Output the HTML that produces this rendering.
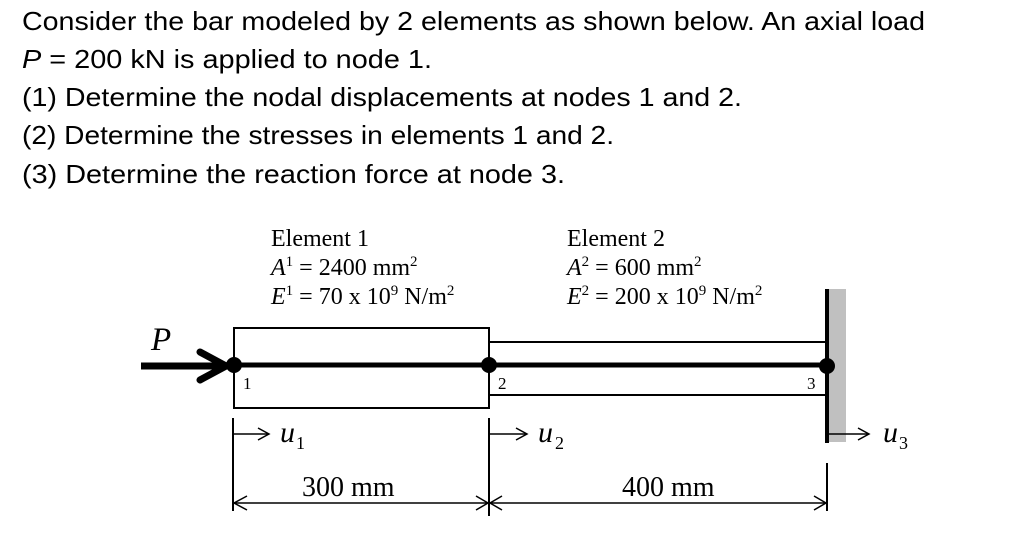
<!DOCTYPE html>
<html><head><meta charset="utf-8"><style>html,body{margin:0;padding:0;background:#fff}svg{display:block}</style></head>
<body>
<svg width="1024" height="555" viewBox="0 0 1024 555" xmlns="http://www.w3.org/2000/svg">
<g font-family="Liberation Sans, sans-serif" font-size="26" fill="#000">
<text x="22" y="30" textLength="903" lengthAdjust="spacingAndGlyphs">Consider the bar modeled by 2 elements as shown below. An axial load</text>
<text x="22" y="68" textLength="410" lengthAdjust="spacingAndGlyphs"><tspan font-style="italic">P</tspan> = 200 kN is applied to node 1.</text>
<text x="22" y="106" textLength="720" lengthAdjust="spacingAndGlyphs">(1) Determine the nodal displacements at nodes 1 and 2.</text>
<text x="22" y="144" textLength="592" lengthAdjust="spacingAndGlyphs">(2) Determine the stresses in elements 1 and 2.</text>
<text x="22" y="183" textLength="543" lengthAdjust="spacingAndGlyphs">(3) Determine the reaction force at node 3.</text>
</g>
<g font-family="Liberation Serif, serif" font-size="24" fill="#000">
<text x="271" y="246">Element 1</text>
<text x="271" y="275"><tspan font-style="italic">A</tspan><tspan font-size="15" dy="-9">1</tspan><tspan dy="9"> = 2400 mm</tspan><tspan font-size="15" dy="-9">2</tspan></text>
<text x="271" y="304"><tspan font-style="italic">E</tspan><tspan font-size="15" dy="-9">1</tspan><tspan dy="9"> = 70 x 10</tspan><tspan font-size="15" dy="-9">9</tspan><tspan dy="9"> N/m</tspan><tspan font-size="15" dy="-9">2</tspan></text>
<text x="567" y="246">Element 2</text>
<text x="567" y="275"><tspan font-style="italic">A</tspan><tspan font-size="15" dy="-9">2</tspan><tspan dy="9"> = 600 mm</tspan><tspan font-size="15" dy="-9">2</tspan></text>
<text x="567" y="304"><tspan font-style="italic">E</tspan><tspan font-size="15" dy="-9">2</tspan><tspan dy="9"> = 200 x 10</tspan><tspan font-size="15" dy="-9">9</tspan><tspan dy="9"> N/m</tspan><tspan font-size="15" dy="-9">2</tspan></text>
<text x="151" y="350" font-size="33" font-style="italic">P</text>
<text x="243" y="389" font-size="17">1</text>
<text x="498" y="389" font-size="17">2</text>
<text x="807" y="389" font-size="17">3</text>
<text x="302" y="496" font-size="28">300 mm</text>
<text x="622" y="496" font-size="28">400 mm</text>
<text x="280" y="442" font-size="30" font-style="italic">u</text><text x="296" y="449" font-size="18">1</text>
<text x="538" y="442" font-size="30" font-style="italic">u</text><text x="555" y="449" font-size="18">2</text>
<text x="883" y="442" font-size="30" font-style="italic">u</text><text x="899" y="449" font-size="18">3</text>
</g>
<g stroke="#000" fill="none">
<rect x="829" y="289" width="17" height="153" fill="#c0c0c0" stroke="none"/>
<rect x="234" y="328" width="255" height="80" stroke-width="2"/>
<line x1="489" y1="342" x2="827" y2="342" stroke-width="2"/>
<line x1="489" y1="395" x2="827" y2="395" stroke-width="2"/>
<line x1="233" y1="365" x2="827" y2="365" stroke-width="5"/>
<line x1="827" y1="289" x2="827" y2="443" stroke-width="4"/>
<line x1="141" y1="366" x2="222" y2="366" stroke-width="7"/>
<polyline points="200,352 226,366 200,380" stroke-width="7" stroke-linecap="round" stroke-linejoin="round"/>
<line x1="233" y1="418" x2="233" y2="511" stroke-width="2"/>
<line x1="489" y1="418" x2="489" y2="516" stroke-width="2"/>
<line x1="827" y1="463" x2="827" y2="511" stroke-width="2"/>
<line x1="233" y1="503" x2="827" y2="503" stroke-width="1.5"/>
<polyline points="247,496 234,503 247,510" stroke-width="1.5"/>
<polyline points="476,496 488,503 476,510" stroke-width="1.5"/>
<polyline points="502,496 490,503 502,510" stroke-width="1.5"/>
<polyline points="814,496 826,503 814,510" stroke-width="1.5"/>
<line x1="234" y1="434" x2="268" y2="434" stroke-width="1.5"/>
<polyline points="258,428 269,434 258,440" stroke-width="1.5"/>
<line x1="490" y1="434" x2="526" y2="434" stroke-width="1.5"/>
<polyline points="516,428 527,434 516,440" stroke-width="1.5"/>
<line x1="828" y1="434" x2="868" y2="434" stroke-width="1.5"/>
<polyline points="858,428 869,434 858,440" stroke-width="1.5"/>
</g>
<circle cx="234" cy="365" r="8"/>
<circle cx="489" cy="365" r="8"/>
<circle cx="827" cy="366" r="8"/>
</svg>
</body></html>
